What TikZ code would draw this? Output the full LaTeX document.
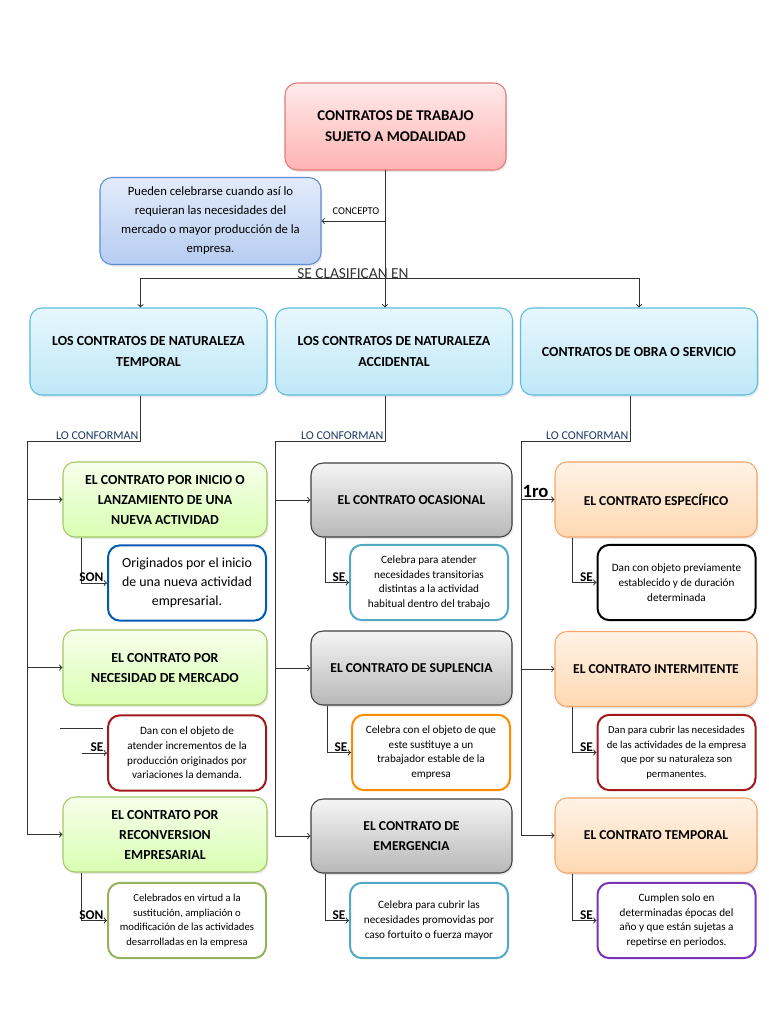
\documentclass[tikz,border=0pt]{standalone}
\usepackage{fontspec}
\setmainfont{Carlito}
\usepackage{xcolor}
\usepackage{tikz}
\usetikzlibrary{shadows}

\definecolor{rojob}{HTML}{E07B7B}
\definecolor{azulb}{HTML}{5F8DD3}
\definecolor{azula}{HTML}{E2EBFA}
\definecolor{azulz}{HTML}{B6CCF1}
\definecolor{cianb}{HTML}{5BBCDB}
\definecolor{ciana}{HTML}{E6F7FD}
\definecolor{cianz}{HTML}{BFE7F7}
\definecolor{verdeb}{HTML}{A4C865}
\definecolor{grisb}{HTML}{404040}
\definecolor{durazb}{HTML}{F6A66A}
\definecolor{confcol}{HTML}{1F3864}

\tikzset{
  caja/.style={rounded corners=9pt, align=center, draw, line width=0.8pt,
    drop shadow={opacity=0.18, shadow xshift=1pt, shadow yshift=-1.5pt}},
  titulo/.style={caja, draw=rojob, top color=red!8, bottom color=red!30,
    minimum width=165.75pt, minimum height=65.25pt, font=\bfseries\fontsize{11.2}{15.75}\selectfont},
  concepto/.style={caja, draw=azulb, top color=azula, bottom color=azulz,
    minimum width=165.75pt, minimum height=65.25pt, font=\fontsize{9.5}{14.25}\selectfont},
  tipo/.style={caja, draw=cianb, top color=ciana, bottom color=cianz,
    minimum width=177.75pt, minimum height=65.25pt, font=\bfseries\fontsize{10.4}{15.75}\selectfont},
  verde/.style={caja, draw=verdeb, top color=green!40!yellow!8, bottom color=green!50!yellow!30,
    minimum width=153pt, minimum height=56.25pt, font=\bfseries\fontsize{10.4}{15}\selectfont},
  gris/.style={caja, draw=grisb, top color=black!4, bottom color=black!28,
    minimum width=150.75pt, minimum height=55.5pt, font=\bfseries\fontsize{10.2}{15}\selectfont},
  durazno/.style={caja, draw=durazb, top color=orange!10, bottom color=orange!30,
    minimum width=151.5pt, minimum height=56.25pt, font=\bfseries\fontsize{10.2}{15}\selectfont},
  desc/.style={rounded corners=9pt, align=center, draw, line width=1.5pt, fill=white,
    minimum width=118.5pt, minimum height=56.5pt, font=\fontsize{8.4}{11}\selectfont},
  conf/.style={anchor=south east, inner sep=1pt, text=confcol, font=\fontsize{9}{10}\selectfont},
  se/.style={anchor=south east, inner sep=0.5pt, xshift=-2pt, font=\bfseries\fontsize{10}{10}\selectfont},
  linea/.style={draw=black!80, line width=0.75pt}
}

\begin{document}
\begin{tikzpicture}[x=0.75pt, y=-0.75pt]
		\useasboundingbox[fill=white] (0,0) rectangle (768,1024);
		% cabecera
		\node[titulo] (top) at (395.5,126.5) {CONTRATOS DE TRABAJO\\SUJETO A MODALIDAD};
		\node[concepto] (def) at (210.5,221) {Pueden celebrarse cuando así lo\\requieran las necesidades del\\mercado o mayor producción de la\\empresa.};
		\node[tipo] (tl) at (148.5,351.5) {LOS CONTRATOS DE NATURALEZA\\TEMPORAL};
		\node[tipo] (ta) at (394,351.5) {LOS CONTRATOS DE NATURALEZA\\ACCIDENTAL};
		\node[tipo] (to) at (639,351.5) {CONTRATOS DE OBRA O SERVICIO};
		\coordinate (tr) at (385,170);
		\coordinate (split) at (385,278);
		\draw[linea, ->] (tr) -- (tr |- ta.north);
		\draw[linea, ->] (tr |- def.east) -- (def.east);
		\node[anchor=south, inner sep=1pt, font=\fontsize{7.8}{9}\selectfont] (cpt) at (356,216) {CONCEPTO};
		\draw[linea, ->] (split) -| ([xshift=-6pt]tl.north);
		\draw[linea, ->] (split) -| (to.north);
		\node[anchor=south, inner sep=1pt, text=black!80, font=\fontsize{11.5}{12}\selectfont] (clas) at (353,280) {SE CLASIFICAN EN};

		% naturaleza temporal
		\coordinate (kl) at (140,441);
		\coordinate (jl) at (27,441);
		\node[verde] (L1) at (165,499.5) {EL CONTRATO POR INICIO O\\LANZAMIENTO DE UNA\\NUEVA ACTIVIDAD};
		\node[verde] (L2) at (165,667.5) {EL CONTRATO POR\\NECESIDAD DE MERCADO};
		\node[verde] (L3) at (165,834.5) {EL CONTRATO POR\\RECONVERSION\\EMPRESARIAL};
		\node[desc, draw=blue!50!cyan!70!black, font=\fontsize{10.4}{14.25}\selectfont] (D1) at (187,583) {Originados por el inicio\\de una nueva actividad\\empresarial.};
		\node[desc, draw=red!60!black!90] (D2) at (187,753) {Dan con el objeto de\\atender incrementos de la\\producción originados por\\variaciones la demanda.};
		\node[desc, draw=verdeb!90!black, font=\fontsize{8}{11}\selectfont] (D3) at (187,920.5) {Celebrados en virtud a la\\sustitución, ampliación o\\modificación de las actividades\\desarrolladas en la empresa};
		\draw[linea, ->] (tl.south -| kl) |- (jl) |- (L3.west);
		\draw[linea, ->] (jl |- L1.west) -- (L1.west);
		\draw[linea, ->] (jl |- L2.west) -- (L2.west);
		\node[conf] (c1) at (kl) {LO CONFORMAN};
		\draw[linea, ->] ([xshift=14pt]L1.south west) |- (D1.west);
		\node[se] (s1) at (D1.west) {SON};
		\coordinate (sa) at (60,728);
		\coordinate (sb) at (103,728);
		\draw[linea] (sa) -- (sb);
		\coordinate (se2) at (82,753);
		\draw[linea, ->] (se2) -- (D2.west);
		\node[se] (s2) at (D2.west) {SE};
		\draw[linea, ->] ([xshift=14pt]L3.south west) |- (D3.west);
		\node[se] (s3) at (D3.west) {SON};

		% naturaleza accidental
		\coordinate (km) at (385,441);
		\coordinate (jm) at (275,441);
		\node[gris] (M1) at (411.5,500) {EL CONTRATO OCASIONAL};
		\node[gris] (M2) at (411.5,668) {EL CONTRATO DE SUPLENCIA};
		\node[gris] (M3) at (411.5,836) {EL CONTRATO DE\\EMERGENCIA};
		\node[desc, draw=cianb!90!black] (MD1) at (429,582.5) {Celebra para atender\\necesidades transitorias\\distintas a la actividad\\habitual dentro del trabajo};
		\node[desc, draw=orange!90!yellow] (MD2) at (431,752.5) {Celebra con el objeto de que\\este sustituye a un\\trabajador estable de la\\empresa};
		\node[desc, draw=cianb!90!black] (MD3) at (429,920.5) {Celebra para cubrir las\\necesidades promovidas por\\caso fortuito o fuerza mayor};
		\draw[linea, ->] (ta.south -| km) |- (jm) |- (M3.west);
		\draw[linea, ->] (jm |- M1.west) -- (M1.west);
		\draw[linea, ->] (jm |- M2.west) -- (M2.west);
		\node[conf] (c2) at (km) {LO CONFORMAN};
		\draw[linea, ->] ([xshift=11.5pt]M1.south west) |- (MD1.west);
		\node[se] (s4) at (MD1.west) {SE};
		\draw[linea, ->] ([xshift=12.5pt]M2.south west) |- (MD2.west);
		\node[se] (s5) at (MD2.west) {SE};
		\draw[linea, ->] ([xshift=11.5pt]M3.south west) |- (MD3.west);
		\node[se] (s6) at (MD3.west) {SE};

		% obra o servicio
		\coordinate (kr) at (630,441);
		\coordinate (jr) at (521,441);
		\node[durazno] (R1) at (656,499.5) {EL CONTRATO ESPECÍFICO};
		\node[durazno] (R2) at (656,669) {EL CONTRATO INTERMITENTE};
		\node[durazno] (R3) at (656,835.5) {EL CONTRATO TEMPORAL};
		\node[desc, draw=black] (RD1) at (676.5,582.5) {Dan con objeto previamente\\establecido y de duración\\determinada};
		\node[desc, draw=red!60!black!90, font=\fontsize{8}{11}\selectfont] (RD2) at (676.5,752.5) {Dan para cubrir las necesidades\\de las actividades de la empresa\\que por su naturaleza son\\permanentes.};
		\node[desc, draw=violet!70!blue!80] (RD3) at (676.5,920.5) {Cumplen solo en\\determinadas épocas del\\año y que están sujetas a\\repetirse en periodos.};
		\draw[linea, ->] (to.south -| kr) |- (jr) |- (R3.west);
		\draw[linea, ->] (jr |- R1.west) -- (R1.west);
		\draw[linea, ->] (jr |- R2.west) -- (R2.west);
		\node[conf] (c3) at (kr) {LO CONFORMAN};
		\node[anchor=south west, inner sep=1pt, font=\bfseries\fontsize{14}{14}\selectfont] (pri) at (jr |- R1.west) {1ro};
		\draw[linea, ->] ([xshift=13.5pt]R1.south west) |- (RD1.west);
		\node[se] (s7) at (RD1.west) {SE};
		\draw[linea, ->] ([xshift=13.5pt]R2.south west) |- (RD2.west);
		\node[se] (s8) at (RD2.west) {SE};
		\draw[linea, ->] ([xshift=13.5pt]R3.south west) |- (RD3.west);
		\node[se] (s9) at (RD3.west) {SE};
	\end{tikzpicture}
\end{document}
